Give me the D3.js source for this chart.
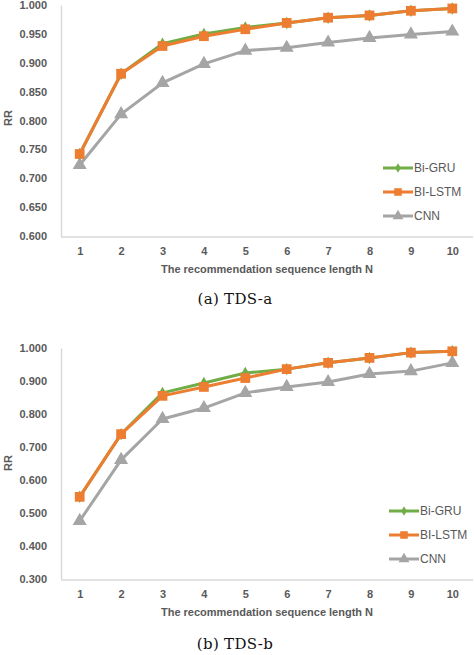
<!DOCTYPE html>
<html>
<head>
<meta charset="utf-8">
<script src="https://cdn.jsdelivr.net/npm/d3@7"></script>
<style>
  body { margin: 0; background: #fff; }
  svg { display: block; }
</style>
</head>
<body>
<svg id="chart" width="474" height="655"></svg>
<script>
// sequence length N
const lengths = [1, 2, 3, 4, 5, 6, 7, 8, 9, 10];
const seriesNames = ["Bi-GRU", "BI-LSTM", "CNN"];

// TDS-a values
const tdsaGru  = [0.742, 0.881, 0.933, 0.950, 0.961, 0.969, 0.978, 0.982, 0.990, 0.994];
const tdsaLstm = [0.742, 0.881, 0.929, 0.946, 0.958, 0.969, 0.978, 0.982, 0.990, 0.994];
const tdsaCnn  = [0.723, 0.811, 0.865, 0.898, 0.921, 0.926, 0.935, 0.943, 0.949, 0.954];
const tdsaTicks = [0.600, 0.650, 0.700, 0.750, 0.800, 0.850, 0.900, 0.950, 1.000];

// TDS-b values
const tdsbGru  = [0.549, 0.739, 0.864, 0.894, 0.924, 0.936, 0.955, 0.970, 0.986, 0.990];
const tdsbLstm = [0.549, 0.739, 0.855, 0.882, 0.909, 0.936, 0.955, 0.970, 0.986, 0.990];
const tdsbCnn  = [0.476, 0.661, 0.785, 0.818, 0.864, 0.882, 0.897, 0.921, 0.930, 0.955];
const tdsbTicks = [0.300, 0.400, 0.500, 0.600, 0.700, 0.800, 0.900, 1.000];

const colors = ["#70ad47", "#ed7d31", "#a5a5a5"];
const markers = [d3.symbolDiamond, d3.symbolSquare, d3.symbolTriangle];
const markerSize = [45, 95, 85];

const svg = d3.select("#chart");
const textFont = "'Liberation Sans', Arial, sans-serif";

function drawPanel(opts) {
    const g = svg.append("g");

    const x = d3.scalePoint()
        .domain(lengths)
        .range([59, 473])
        .padding(0.5);

    const y = d3.scaleLinear()
        .domain([opts.ticks[0], opts.ticks[opts.ticks.length - 1]])
        .range([opts.bottom, opts.top]);

    // y axis
    const yAxis = g.append("g")
        .attr("transform", "translate(61,0)")
        .call(d3.axisLeft(y).tickValues(opts.ticks).tickSize(0).tickPadding(14).tickFormat(d3.format(".3f")));
    yAxis.select(".domain").attr("stroke", "#d9d9d9").attr("stroke-width", 1.5);
    yAxis.selectAll("text")
        .attr("fill", "#595959")
        .style("font-family", textFont)
        .style("font-weight", "bold")
        .style("font-size", "11px");

    // x axis
    const xAxis = g.append("g")
        .attr("transform", `translate(0,${opts.bottom + 1})`)
        .call(d3.axisBottom(x).tickSize(0).tickPadding(10));
    xAxis.select(".domain").attr("d", "M61,0H473").attr("stroke", "#d9d9d9").attr("stroke-width", 1.5);
    xAxis.selectAll("text")
        .attr("fill", "#595959")
        .style("font-family", textFont)
        .style("font-weight", "bold")
        .style("font-size", "11px");

    // axis titles
    g.append("text")
        .attr("x", 267)
        .attr("y", opts.bottom + 37)
        .attr("text-anchor", "middle")
        .attr("fill", "#595959")
        .style("font-family", textFont)
        .style("font-weight", "bold")
        .style("font-size", "11px")
        .text("The recommendation sequence length N");

    g.append("text")
        .attr("transform", `translate(12,${opts.labelY}) rotate(-90)`)
        .attr("text-anchor", "middle")
        .attr("fill", "#595959")
        .style("font-family", textFont)
        .style("font-weight", "bold")
        .style("font-size", "11px")
        .text("RR");

    // lines, drawn CNN first so GRU/LSTM sit on top
    const line = d3.line()
        .x((d, i) => x(lengths[i]))
        .y(d => y(d));

    [2, 0, 1].forEach(k => {
        const vals = opts.series[k];
        g.append("path")
            .attr("d", line(vals))
            .attr("fill", "none")
            .attr("stroke", colors[k])
            .attr("stroke-width", 3)
            .attr("stroke-linejoin", "round");
        g.selectAll(null)
            .data(vals)
            .join("path")
            .attr("transform", (d, i) => `translate(${x(lengths[i])},${y(d)})`)
            .attr("d", d3.symbol().type(markers[k]).size(markerSize[k]))
            .attr("fill", colors[k]);
    });

    // legend
    const legend = g.append("g")
        .attr("transform", `translate(${opts.legendX},${opts.legendY})`);
    seriesNames.forEach((name, k) => {
        const row = legend.append("g").attr("transform", `translate(0,${k * 24})`);
        row.append("line")
            .attr("x1", 0).attr("x2", 30)
            .attr("stroke", colors[k])
            .attr("stroke-width", 3);
        row.append("path")
            .attr("transform", "translate(15,0)")
            .attr("d", d3.symbol().type(markers[k]).size(markerSize[k] * 0.6))
            .attr("fill", colors[k]);
        row.append("text")
            .attr("x", 31)
            .attr("y", 4)
            .attr("fill", "#595959")
            .style("font-family", textFont)
            .style("font-size", "12px")
            .text(name);
    });

    // caption
    svg.append("text")
        .attr("x", 235)
        .attr("y", opts.captionY)
        .attr("text-anchor", "middle")
        .attr("fill", "#111")
        .style("font-family", "'DejaVu Serif', 'Liberation Serif', serif")
        .style("font-size", "15px")
        .style("letter-spacing", "0.3px")
        .text(opts.caption);
}

drawPanel({
    series: [tdsaGru, tdsaLstm, tdsaCnn],
    ticks: tdsaTicks,
    top: 5,
    bottom: 236,
    labelY: 118,
    legendX: 383,
    legendY: 168,
    captionY: 304,
    caption: "(a)  TDS-a"
});

drawPanel({
    series: [tdsbGru, tdsbLstm, tdsbCnn],
    ticks: tdsbTicks,
    top: 348,
    bottom: 579,
    labelY: 463,
    legendX: 389,
    legendY: 511,
    captionY: 649,
    caption: "(b)  TDS-b"
});
</script>
</body>
</html>
